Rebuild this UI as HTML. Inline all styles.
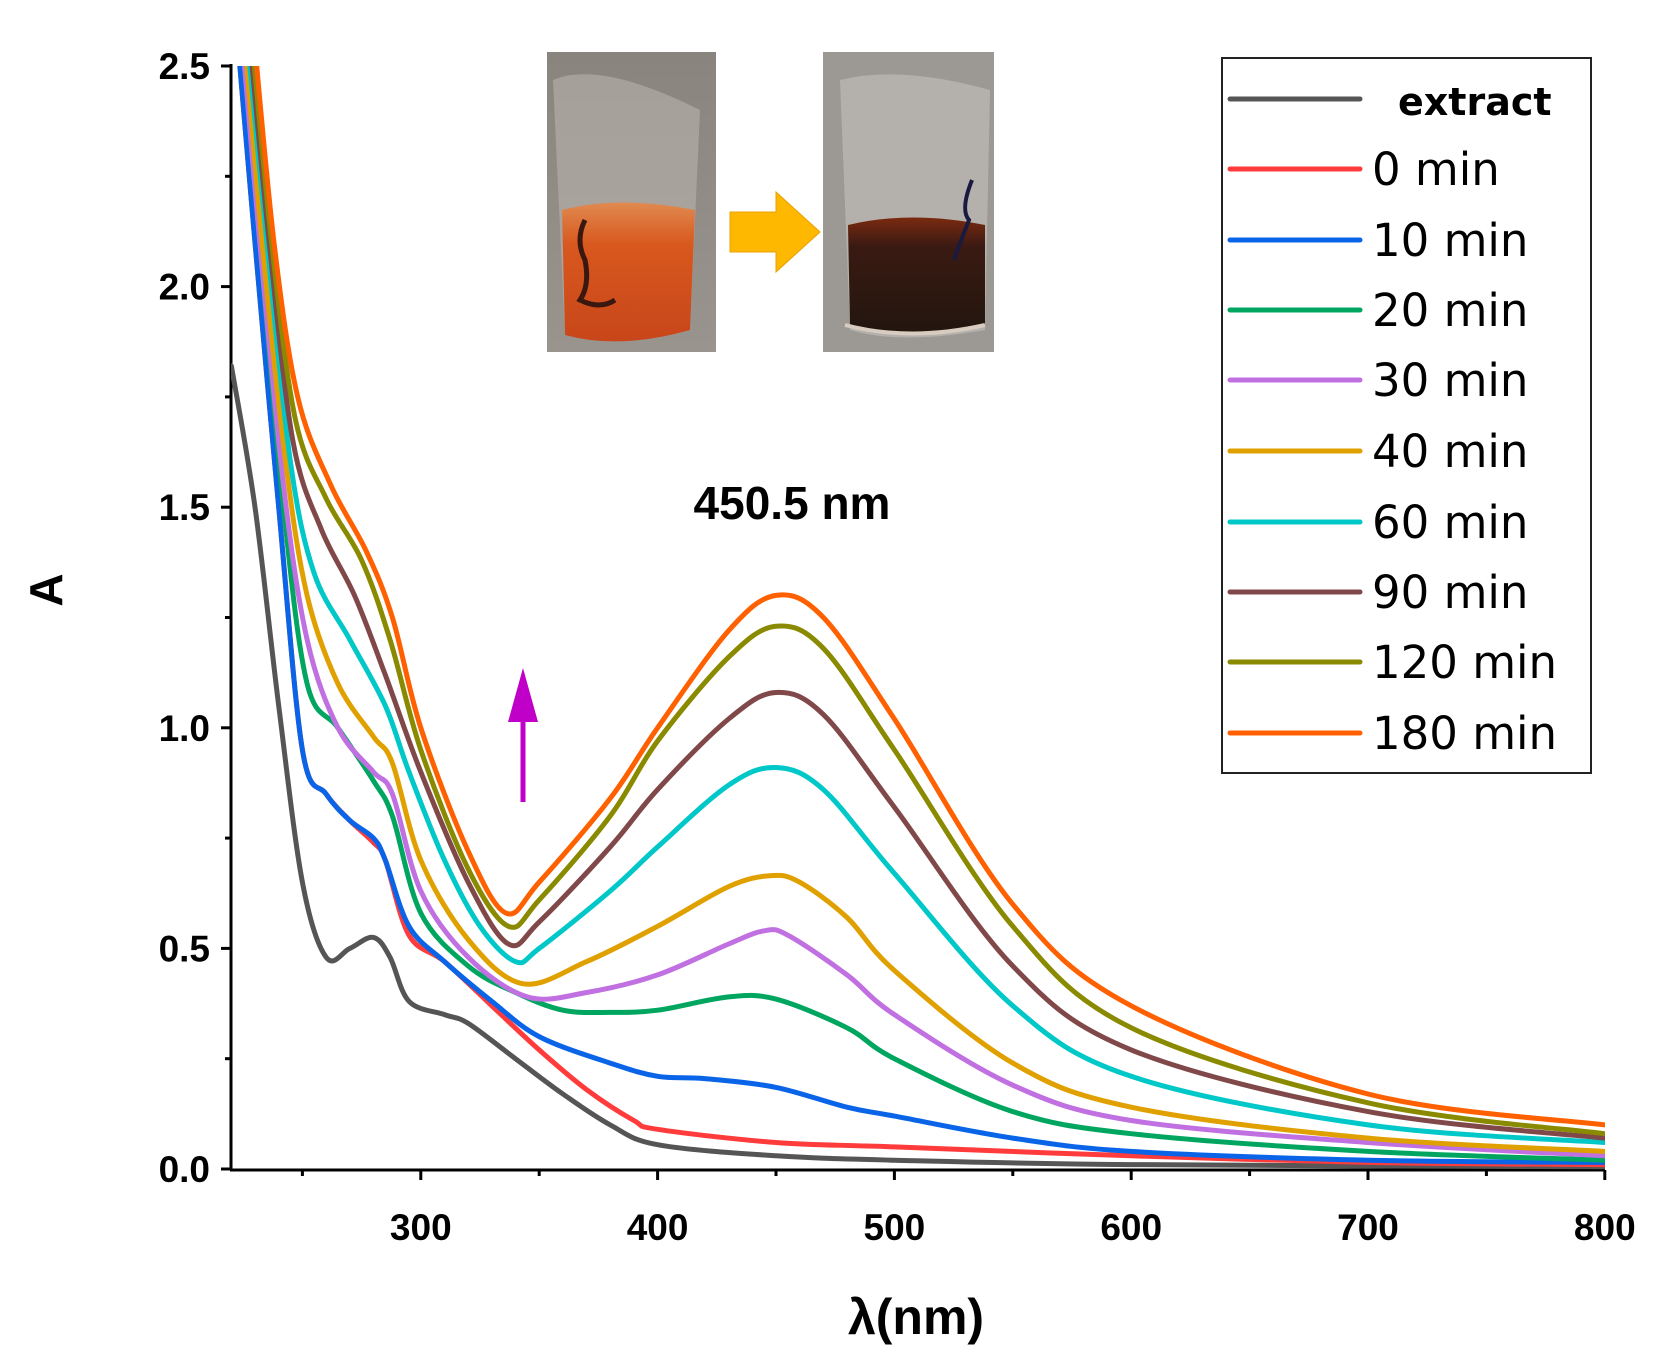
<!DOCTYPE html>
<html><head><meta charset="utf-8"><style>
html,body{margin:0;padding:0;background:#fff;}
svg{display:block;}
text{font-family:"Liberation Sans",Arial,sans-serif;}
#leg text{font-family:"DejaVu Sans",sans-serif;}
</style></head><body>
<svg id="s" width="1661" height="1364" viewBox="0 0 1661 1364" xmlns="http://www.w3.org/2000/svg">
<defs>
<clipPath id="pc"><rect x="231" y="66" width="1374" height="1104"/></clipPath>
<linearGradient id="bg1" x1="0" y1="0" x2="0" y2="1"><stop offset="0" stop-color="#8a847e"/><stop offset="1" stop-color="#9a948e"/></linearGradient>
<linearGradient id="liq1" x1="0" y1="0" x2="0" y2="1"><stop offset="0" stop-color="#e08a50"/><stop offset="0.3" stop-color="#d8581e"/><stop offset="1" stop-color="#c8461a"/></linearGradient>
<linearGradient id="liq2" x1="0" y1="0" x2="0" y2="1"><stop offset="0" stop-color="#7a2a10"/><stop offset="0.25" stop-color="#3a1a12"/><stop offset="1" stop-color="#22160f"/></linearGradient>
</defs>
<rect x="547" y="52" width="169" height="300" fill="url(#bg1)"/>
<path d="M553 80 Q600 60 700 110 L690 330 Q620 345 565 335 Z" fill="#b8b2ac" opacity="0.6"/>
<path d="M562 210 Q620 195 695 210 L690 330 Q620 350 565 335 Z" fill="url(#liq1)"/>
<path d="M585 220 q-10 20 0 40 q5 25 -5 40 q20 10 35 0" stroke="#3a1810" stroke-width="5" fill="none"/>
<rect x="823" y="52" width="171" height="300" fill="#9c9893"/>
<path d="M840 80 Q900 65 990 90 L985 330 Q900 345 850 330 Z" fill="#c8c4c0" opacity="0.55"/>
<path d="M848 225 Q910 210 985 225 L985 325 Q910 340 850 325 Z" fill="url(#liq2)"/>
<path d="M845 325 Q910 342 985 325" stroke="#d8ccc0" stroke-width="4" fill="none"/>
<path d="M972 180 q-12 30 -3 40 q-8 20 -15 40" stroke="#1a1a40" stroke-width="4" fill="none"/>
<polygon points="730,212 776,212 776,192 820,232 776,272 776,252 730,252" fill="#ffb800" stroke="#e8a000" stroke-width="1"/>
<g id="ticks" stroke="#000" stroke-width="3"></g>
<line x1="231" y1="64" x2="231" y2="1170" stroke="#000" stroke-width="3"/>
<line x1="230" y1="1170" x2="1605" y2="1170" stroke="#000" stroke-width="3"/>
<g id="curves" clip-path="url(#pc)" fill="none" stroke-width="5" stroke-linejoin="round" stroke-linecap="round"></g>
<g font-weight="bold" font-size="37" id="labels"></g>
<text x="916" y="1334" font-size="50" font-weight="bold" text-anchor="middle">λ(nm)</text>
<text transform="translate(62,590) rotate(-90)" font-size="46" font-weight="bold" text-anchor="middle">A</text>
<text x="792" y="519" font-size="46" font-weight="bold" text-anchor="middle">450.5 nm</text>
<line x1="523" y1="802" x2="523" y2="700" stroke="#c000c8" stroke-width="5"/>
<polygon points="508,722 538,722 523,668" fill="#c000c8"/>
<rect x="1222" y="58" width="369" height="715" fill="none" stroke="#222" stroke-width="2"/>
<g id="leg" font-size="45" stroke-width="5"></g>
</svg>
<script>
var X=function(l){return 420.8+(l-300)*2.368;},Y=function(a){return 1169-a*441.2;};
var S=[
["#555555",[[220,1.82],[230,1.5],[240,1.05],[250,0.65],[260,0.48],[270,0.5],[280,0.525],[287,0.48],[295,0.38],[310,0.35],[320,0.33],[340,0.25],[360,0.17],[380,0.1],[400,0.055],[450,0.03],[500,0.02],[600,0.01],[800,0.005]]],
["#ff3b3b",[[222,2.6],[230,2.1],[240,1.5],[250,0.95],[260,0.85],[270,0.79],[280,0.74],[285,0.7],[295,0.53],[310,0.47],[330,0.37],[350,0.27],[370,0.18],[390,0.11],[400,0.09],[450,0.06],[500,0.05],[600,0.03],[700,0.015],[800,0.01]]],
["#0a64e8",[[222,2.6],[230,2.1],[240,1.5],[250,0.95],[260,0.85],[270,0.79],[280,0.75],[285,0.7],[295,0.55],[310,0.47],[330,0.38],[350,0.3],[380,0.24],[400,0.21],[420,0.205],[450,0.185],[480,0.14],[500,0.12],[550,0.07],[600,0.04],[700,0.02],[800,0.015]]],
["#00a660",[[224,2.6],[232,2.1],[242,1.5],[252,1.1],[265,1.0],[280,0.88],[288,0.8],[300,0.58],[320,0.46],[340,0.4],[360,0.36],[380,0.355],[400,0.36],[430,0.39],[450,0.385],[480,0.32],[500,0.25],[550,0.13],[600,0.08],[700,0.04],[800,0.02]]],
["#c070e0",[[224,2.6],[232,2.1],[242,1.55],[252,1.2],[265,1.0],[280,0.9],[288,0.85],[300,0.63],[320,0.48],[345,0.39],[370,0.4],[400,0.44],[430,0.51],[445,0.54],[455,0.53],[480,0.44],[500,0.35],[550,0.19],[600,0.11],[700,0.06],[800,0.03]]],
["#e0a000",[[225,2.6],[233,2.1],[243,1.6],[252,1.3],[265,1.1],[280,0.98],[288,0.92],[300,0.7],[320,0.52],[343,0.42],[370,0.47],[400,0.55],[430,0.64],[448,0.665],[460,0.65],[480,0.57],[500,0.45],[550,0.24],[600,0.14],[700,0.07],[800,0.04]]],
["#00c8c8",[[226,2.6],[235,2.1],[245,1.6],[255,1.35],[270,1.2],[285,1.05],[295,0.9],[310,0.7],[325,0.55],[340,0.47],[350,0.5],[380,0.63],[400,0.73],[430,0.87],[450,0.91],[470,0.86],[500,0.67],[550,0.37],[600,0.21],[700,0.1],[800,0.06]]],
["#804848",[[227,2.6],[236,2.1],[246,1.65],[258,1.45],[272,1.3],[285,1.12],[300,0.9],[320,0.65],[337,0.51],[350,0.56],[380,0.73],[400,0.86],[430,1.02],[450,1.08],[470,1.03],[500,0.82],[550,0.46],[600,0.27],[700,0.13],[800,0.07]]],
["#8a8a00",[[228,2.6],[237,2.1],[247,1.7],[260,1.52],[275,1.38],[287,1.2],[300,0.95],[320,0.68],[337,0.55],[350,0.61],[380,0.8],[400,0.97],[430,1.16],[450,1.23],[470,1.18],[500,0.95],[550,0.55],[600,0.32],[700,0.15],[800,0.08]]],
["#ff6000",[[229,2.6],[238,2.1],[248,1.75],[262,1.55],[277,1.4],[288,1.25],[300,1.0],[320,0.72],[336,0.58],[350,0.65],[380,0.84],[400,1.0],[430,1.22],[450,1.3],[470,1.25],[500,1.02],[550,0.6],[600,0.37],[700,0.17],[800,0.1]]]];
var NS="http://www.w3.org/2000/svg";
function el(t,a,p,txt){var e=document.createElementNS(NS,t);for(var k in a)e.setAttribute(k,a[k]);if(txt!=null)e.textContent=txt;p.appendChild(e);return e;}
var cg=document.getElementById("curves");
S.forEach(function(s){var p=s[1].map(function(q){return[X(q[0]),Y(q[1])];});
var d="M"+p[0][0].toFixed(1)+" "+p[0][1].toFixed(1);
for(var i=0;i<p.length-1;i++){var p0=p[i-1]||p[i],p1=p[i],p2=p[i+1],p3=p[i+2]||p2;
d+=" C"+(p1[0]+(p2[0]-p0[0])/6).toFixed(1)+" "+(p1[1]+(p2[1]-p0[1])/6).toFixed(1)+" "+(p2[0]-(p3[0]-p1[0])/6).toFixed(1)+" "+(p2[1]-(p3[1]-p1[1])/6).toFixed(1)+" "+p2[0].toFixed(1)+" "+p2[1].toFixed(1);}
el("path",{d:d,stroke:s[0]},cg);});
var tg=document.getElementById("ticks"),lg=document.getElementById("labels");
for(var a=0;a<=2.5001;a+=0.25){var y=Y(a),maj=Math.abs(a*2-Math.round(a*2))<1e-6;el("line",{x1:231-(maj?10:6),y1:y,x2:231,y2:y},tg);
if(maj)el("text",{x:210,y:y+13,"text-anchor":"end"},lg,a.toFixed(1));}
for(var l=250;l<=800;l+=50){var x=X(l),maj=l%100==0;el("line",{x1:x,y1:1170,x2:x,y2:1170+(maj?10:6)},tg);
if(maj)el("text",{x:x,y:1240,"text-anchor":"middle"},lg,l);}
var names=["extract","0 min","10 min","20 min","30 min","40 min","60 min","90 min","120 min","180 min"];
var ys=[99,169,240,310,380,451,522,592,662,733],lgd=document.getElementById("leg");
names.forEach(function(n,i){el("line",{x1:1230,y1:ys[i],x2:1360,y2:ys[i],stroke:S[i][0],"stroke-linecap":"round"},lgd);
var t=el("text",{x:i==0?1398:1372,y:ys[i]+16},lgd,n);if(i==0){t.setAttribute("font-weight","bold");t.setAttribute("font-size","38");}});
</script>
</body></html>
